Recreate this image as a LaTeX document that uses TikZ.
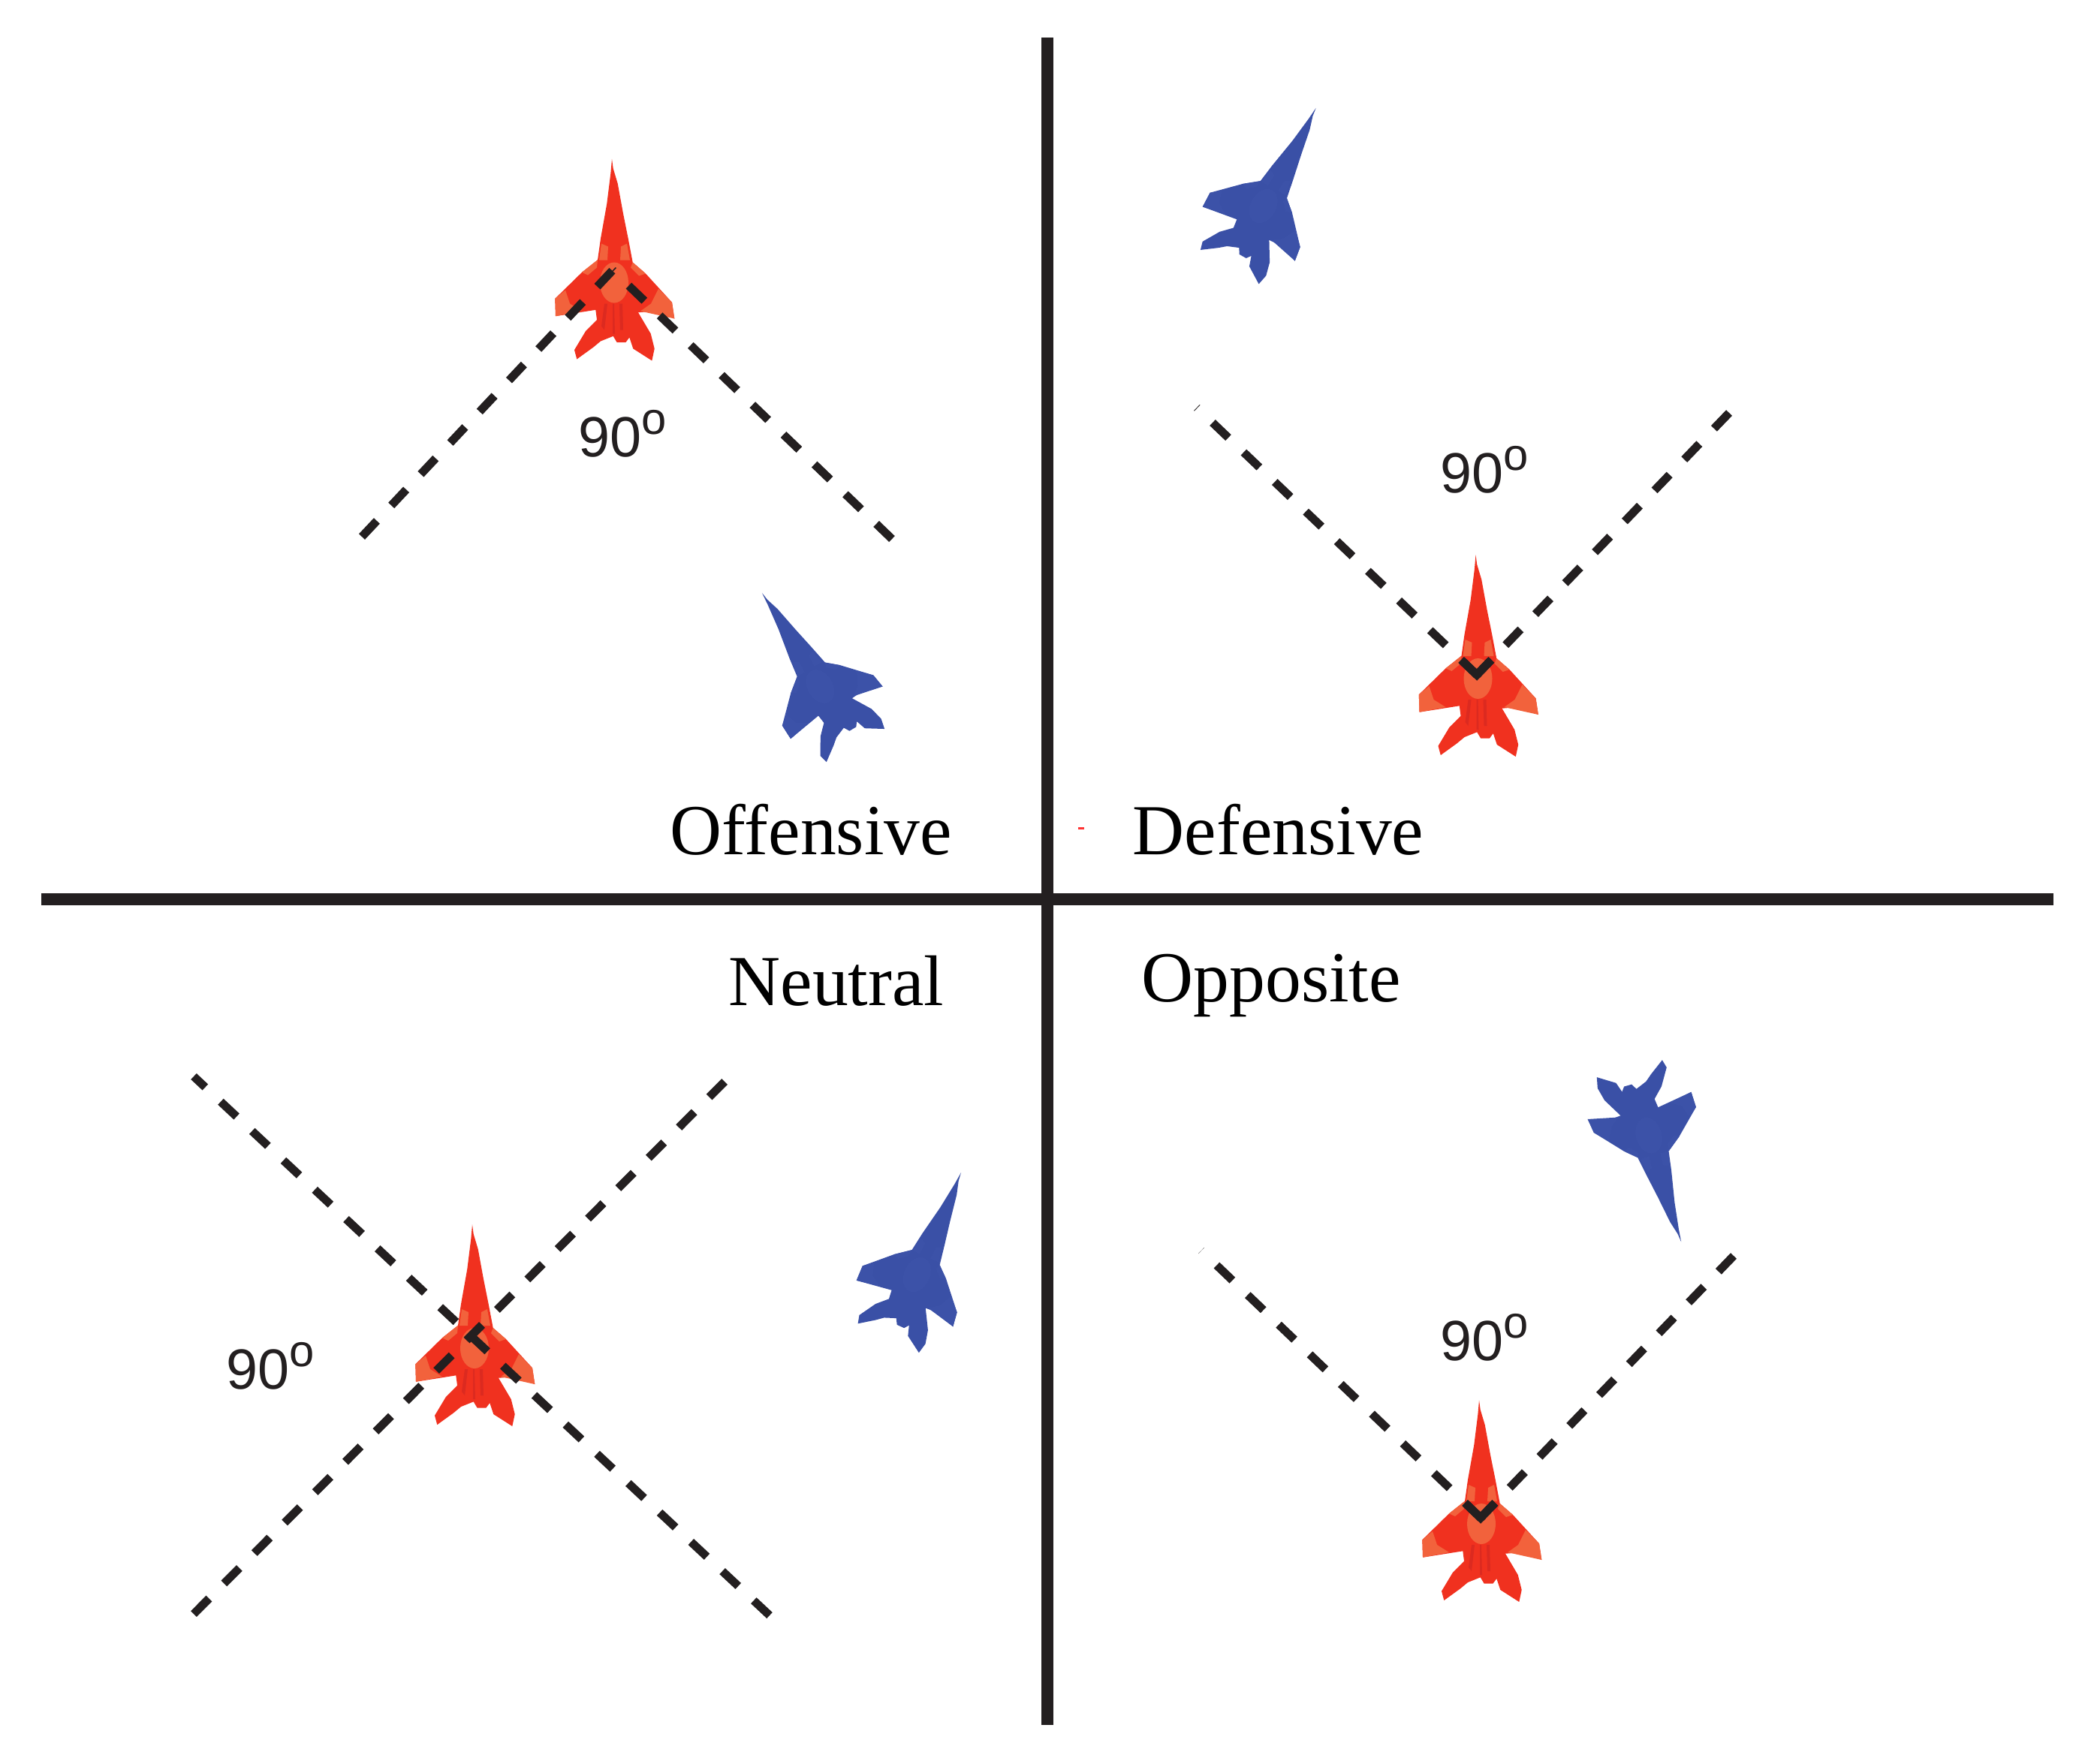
\documentclass[tikz,border=0pt]{standalone}
\usepackage{xcolor}
\usepackage{fontspec}
\usetikzlibrary{calc}
\setmainfont{Liberation Serif}
\newfontfamily\anglefont{Liberation Sans}
\definecolor{inkc}{HTML}{231F20}
\definecolor{redc}{HTML}{F0311F}
\definecolor{redl}{HTML}{F2623C}
\definecolor{redd}{HTML}{DC2A20}
\definecolor{bluec}{HTML}{3A50A6}
\definecolor{bluel}{HTML}{3C52A8}
\tikzset{
 axisline/.style={inkc,line width=0.155cm},
 sightline/.style={inkc,line width=0.11cm,dash pattern=on 0.29cm off 0.282cm},
 sightvee/.style={inkc,line width=0.11cm},
 caselabel/.style={inner sep=0pt,anchor=base west,font=\fontsize{27.2}{30}\selectfont},
 anglelabel/.style={inner sep=0pt,anchor=base west,inkc,font=\anglefont\fontsize{21.5}{24}\selectfont},
}
\def\jetbody{(0,1.427) -- (.017,1.3) -- (.077,1.1) -- (.15,.7) -- (.217,.367) -- (.277,.05) -- (.45,-.1) -- (.8,-.483) -- (.833,-.7) -- (.583,-.6) -- (.35,-.617) -- (.517,-.9) -- (.567,-1.1) -- (.533,-1.26) -- (.283,-1.1) -- (.233,-.95) -- (.183,-1.017) -- (.067,-1.017) -- (.017,-.933) -- (-.15,-1) -- (-.25,-1.083) -- (-.467,-1.24) -- (-.5,-1.117) -- (-.35,-.867) -- (-.2,-.717) -- (-.217,-.583) -- (-.75,-.667) -- (-.757,-.433) -- (-.4,-.083) -- (-.19,.083) -- (-.15,.367) -- (-.067,.833) -- (-.017,1.233) -- cycle}
\def\jetpatch{(.03,-.22) ellipse (.19 and .27) (-.75,-.667) -- (-.757,-.433) -- (-.62,-.32) -- (-.56,-.5) -- (-.4,-.6) -- cycle (.833,-.7) -- (.8,-.483) -- (.62,-.3) -- (.52,-.5) -- (.38,-.6) -- cycle (-.19,.083) -- (-.4,-.083) -- (-.32,-.12) -- (-.2,-.02) -- cycle (.277,.05) -- (.45,-.1) -- (.36,-.13) -- (.25,-.02) -- cycle (-.14,.3) -- (-.05,.26) -- (-.06,.08) -- (-.17,.08) -- cycle (.2,.3) -- (.12,.26) -- (.11,.08) -- (.24,.08) -- cycle}
\def\jetstreak{(-.1,-.5) -- (-.06,-.5) -- (-.1,-.85) -- (-.14,-.8) -- cycle (.01,-.5) -- (.03,-.5) -- (.04,-.9) -- (.01,-.9) -- cycle (.1,-.5) -- (.14,-.5) -- (.15,-.85) -- (.11,-.85) -- cycle}
\def\jet#1#2#3#4#5#6#7{%
 \begin{scope}[shift={(#1,#2)},rotate=#3,scale=#4]
  \fill[#5] \jetbody;
  \fill[#6] \jetpatch;
  \fill[#7] \jetstreak;
 \end{scope}}
\def\ninety{90\raisebox{8.4pt}{\fontsize{17}{18}\selectfont o}}

\begin{document}
\begin{tikzpicture}
\useasboundingbox (0,0) rectangle (27.81,-23.49);

%axes
\coordinate (top) at (13.95,-0.50);
\coordinate (bot) at (13.95,-22.98);
\coordinate (lft) at (0.55,-11.98);
\coordinate (rgt) at (27.35,-11.98);
\draw[axisline] (top) -- (bot);
\draw[axisline] (lft) -- (rgt);

%Offensive
\jet{8.15}{-3.545}{0}{1}{redc}{redl}{redd}
\jet{10.80}{-8.99}{30.8}{.89}{bluec}{bluel}{bluec}
\coordinate (offl) at (4.82,-7.15);
\coordinate (offv) at (8.16,-3.60);
\coordinate (offr) at (11.88,-7.18);
\draw[sightline] (offl) -- (offv);
\draw[sightline] (offr) -- (offv);
\node[anglelabel] (offa) at (7.70,-6.08) {\ninety};
\node[caselabel] (offt) at (8.92,-11.38) {Offensive};

%Defensive
\jet{19.655}{-8.82}{0}{1}{redc}{redl}{redd}
\jet{16.90}{-2.56}{-29.2}{.90}{bluec}{bluel}{bluec}
\coordinate (defl) at (15.94,-5.43);
\coordinate (defv) at (19.67,-8.99);
\coordinate (defr) at (23.03,-5.50);
\draw[sightline] (defr) -- (defv);
\draw[sightline] (defv) -- (defl);
\draw[sightvee] ($(defv)!.28cm!(defl)$) -- (defv) -- ($(defv)!.28cm!(defr)$);
\node[anglelabel] (defa) at (19.18,-6.56) {\ninety};
\node[caselabel] (deft) at (15.08,-11.38) {Defensive};
\fill[red!80!white] (14.36,-11.05) rectangle (14.44,-11.02);

%Neutral
\jet{6.29}{-17.74}{0}{1}{redc}{redl}{redd}
\jet{12.27}{-16.79}{-24.4}{.90}{bluec}{bluel}{bluec}
\coordinate (neua) at (2.58,-14.34);
\coordinate (neub) at (10.25,-21.52);
\coordinate (neuc) at (2.58,-21.50);
\coordinate (neud) at (9.69,-14.37);
\draw[sightline] (neub) -- (neua);
\draw[sightline] (neuc) -- (neud);
\node[anglelabel] (neut) at (3.01,-18.50) {\ninety};
\node[caselabel] (neul) at (9.70,-13.39) {Neutral};

%Opposite
\jet{19.70}{-20.08}{0}{1}{redc}{redl}{redd}
\jet{22.04}{-15.31}{195.9}{.90}{bluec}{bluel}{bluec}
\coordinate (oppl) at (16.00,-16.66);
\coordinate (oppv) at (19.72,-20.22);
\coordinate (oppr) at (23.09,-16.73);
\draw[sightline] (oppr) -- (oppv);
\draw[sightline] (oppv) -- (oppl);
\draw[sightvee] ($(oppv)!.28cm!(oppl)$) -- (oppv) -- ($(oppv)!.28cm!(oppr)$);
\node[anglelabel] (oppa) at (19.18,-18.12) {\ninety};
\node[caselabel] (oppt) at (15.20,-13.34) {Opposite};

\end{tikzpicture}
\end{document}
